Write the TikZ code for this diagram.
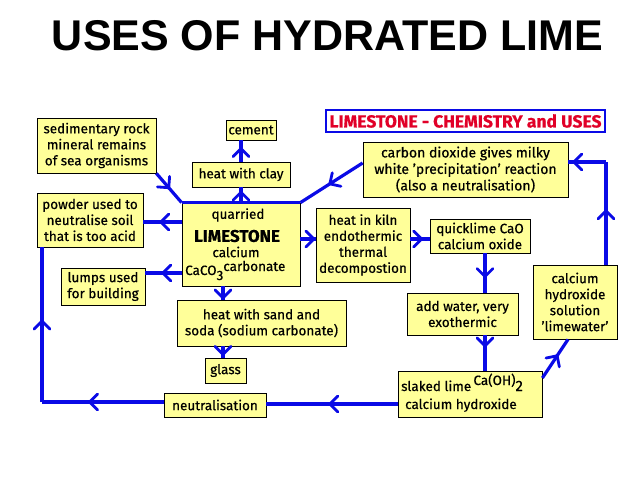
\documentclass[tikz,border=0pt]{standalone}
\usepackage{fontspec}
\setmainfont{Fira Sans}[FakeBold=0.5]
\newfontfamily\titlefont{Liberation Sans}
\usetikzlibrary{decorations.markings,calc}
\definecolor{boxyellow}{RGB}{255,255,153}
\definecolor{lineblue}{RGB}{10,10,230}
\definecolor{titlered}{RGB}{225,0,40}
\tikzset{
  ybox/.style={draw=black,line width=0.8pt,fill=boxyellow,align=center,inner sep=1pt,font=\fontsize{13.5}{16}\selectfont,text=black},
  ltxt/.style={inner sep=0pt,text=black},
  conn/.style={draw=lineblue,line width=3.2pt},
  midarrow/.style={decoration={markings,mark=at position #1 with {\draw[lineblue,line width=2.8pt,line join=round,line cap=round] (-4.5,-8) -- (3.5,0) -- (-4.5,8);}},postaction={decorate}}
}
\begin{document}
\begin{tikzpicture}[x=1pt,y=-1pt]
\useasboundingbox[fill=white] (0,0) rectangle (638,479);
\node[font=\titlefont\bfseries\fontsize{43}{46}\selectfont] (title) at (327.5,36) {USES OF HYDRATED LIME};

% boxes
\node[ybox,minimum width=119,minimum height=55] (sed) at (96.5,145.5) {sedimentary rock\\mineral remains\\of sea organisms};
\node[ybox,minimum width=106,minimum height=54] (powder) at (90,220) {powder used to\\neutralise soil\\that is too acid};
\node[ybox,minimum width=84,minimum height=37] (lumps) at (103,286.5) {lumps used\\for building};
\node[ybox,minimum width=50,minimum height=20] (cement) at (251,130) {cement};
\node[ybox,minimum width=98,minimum height=25] (clay) at (241,174.5) {heat with clay};
\node[ybox,minimum width=118,minimum height=83] (lime) at (241,244.5) {};
\node[ltxt,font=\fontsize{13.5}{16}\selectfont] (lq) at (238,215) {quarried};
\node[ltxt,font=\bfseries\fontsize{17}{18}\selectfont] (ll) at (237,236) {LIMESTONE};
\node[ltxt,font=\fontsize{13.5}{16}\selectfont] (lc) at (236,252) {calcium};
\node[ltxt,font=\fontsize{13.5}{16}\selectfont,anchor=base west] (lcc) at (185,275) {CaCO\raisebox{-5pt}{3}\raisebox{4pt}{carbonate}};
\node[draw=lineblue,line width=2.4pt,fill=white,minimum width=279,minimum height=22,inner sep=0pt,text=titlered,font=\bfseries\fontsize{17.5}{18}\selectfont] (chem) at (465.5,121) {LIMESTONE - CHEMISTRY and USES};
\node[ybox,minimum width=205,minimum height=55,font=\fontsize{14}{16.5}\selectfont] (co2) at (465.5,169.5) {carbon dioxide gives milky\\white 'precipitation' reaction\\(also a neutralisation)};
\node[ybox,minimum width=94,minimum height=74] (kiln) at (363,245) {heat in kiln\\endothermic\\thermal\\decompostion};
\node[ybox,minimum width=100,minimum height=34] (quick) at (480,236) {quicklime CaO\\calcium oxide};
\node[ybox,minimum width=84,minimum height=74] (soln) at (575,302) {calcium\\hydroxide\\solution\\'limewater'};
\node[ybox,minimum width=111,minimum height=42] (water) at (462.5,314) {add water, very\\exothermic};
\node[ybox,minimum width=144,minimum height=46] (slaked) at (470,394) {};
\node[ltxt,font=\fontsize{13.5}{16}\selectfont,anchor=base west] (sl1) at (401,391) {slaked lime\,\raisebox{6pt}{Ca(OH)}{\fontsize{15}{15}\selectfont 2}};
\node[ltxt,font=\fontsize{13.5}{16}\selectfont,anchor=base west] (sl2) at (405,409) {calcium hydroxide};
\node[ybox,minimum width=169,minimum height=46] (sand) at (261.5,323) {heat with sand and\\soda (sodium carbonate)};
\node[ybox,minimum width=41,minimum height=25] (glass) at (225.5,370.5) {glass};
\node[ybox,minimum width=102,minimum height=24] (neut) at (215,405) {neutralisation};

% connectors
\draw[conn] (lime.north west) -- (lime.north east);
\draw[conn,midarrow=0.4] (sed.south east) -- (lime.north west);
\draw[conn,midarrow=0.48] (co2.west |- 0,163) -- (lime.north east);
\draw[conn,midarrow=0.45] (lime.north -| 241,0) -- (clay.south -| 241,0);
\draw[conn,midarrow=0.45] (clay.north -| 241,0) -- (cement.south -| 241,0);
\draw[conn,midarrow=0.45] (lime.west |- 0,222) -- (powder.east |- 0,222);
\draw[conn,midarrow=0.42] (lime.west |- 0,273) -- (lumps.east |- 0,273);
\draw[conn,midarrow=0.65] (lime.east |- 0,239) -- (kiln.west |- 0,239);
\draw[conn,midarrow=0.4] (kiln.east |- 0,239) -- (quick.west |- 0,239);
\draw[conn,midarrow=0.5] (quick.south -| 485,0) -- (water.north -| 485,0);
\draw[conn,midarrow=0.2] (water.south -| 485,0) -- (slaked.north -| 485,0);
\draw[conn,midarrow=0.5] (slaked.east |- 0,378) -- (soln.south -| 568,0);
\coordinate (cornerR) at (606,162);
\draw[conn,midarrow=0.49] (soln.north -| 606,0) -- (cornerR);
\draw[conn,midarrow=0.76] (cornerR) -- (co2.east |- 0,162);
\draw[conn,midarrow=0.6] (lime.south -| 223,0) -- (sand.north -| 223,0);
\draw[conn,midarrow=0.4] (sand.south -| 223,0) -- (glass.north -| 223,0);
\draw[conn,midarrow=0.49] (slaked.west |- 0,404) -- (neut.east |- 0,404);
\coordinate (cornerL) at (42,402);
\draw[conn,midarrow=0.58] (neut.west |- 0,402) -- (cornerL);
\draw[conn,midarrow=0.5] (cornerL) -- (powder.south -| 42,0);
\end{tikzpicture}
\end{document}
